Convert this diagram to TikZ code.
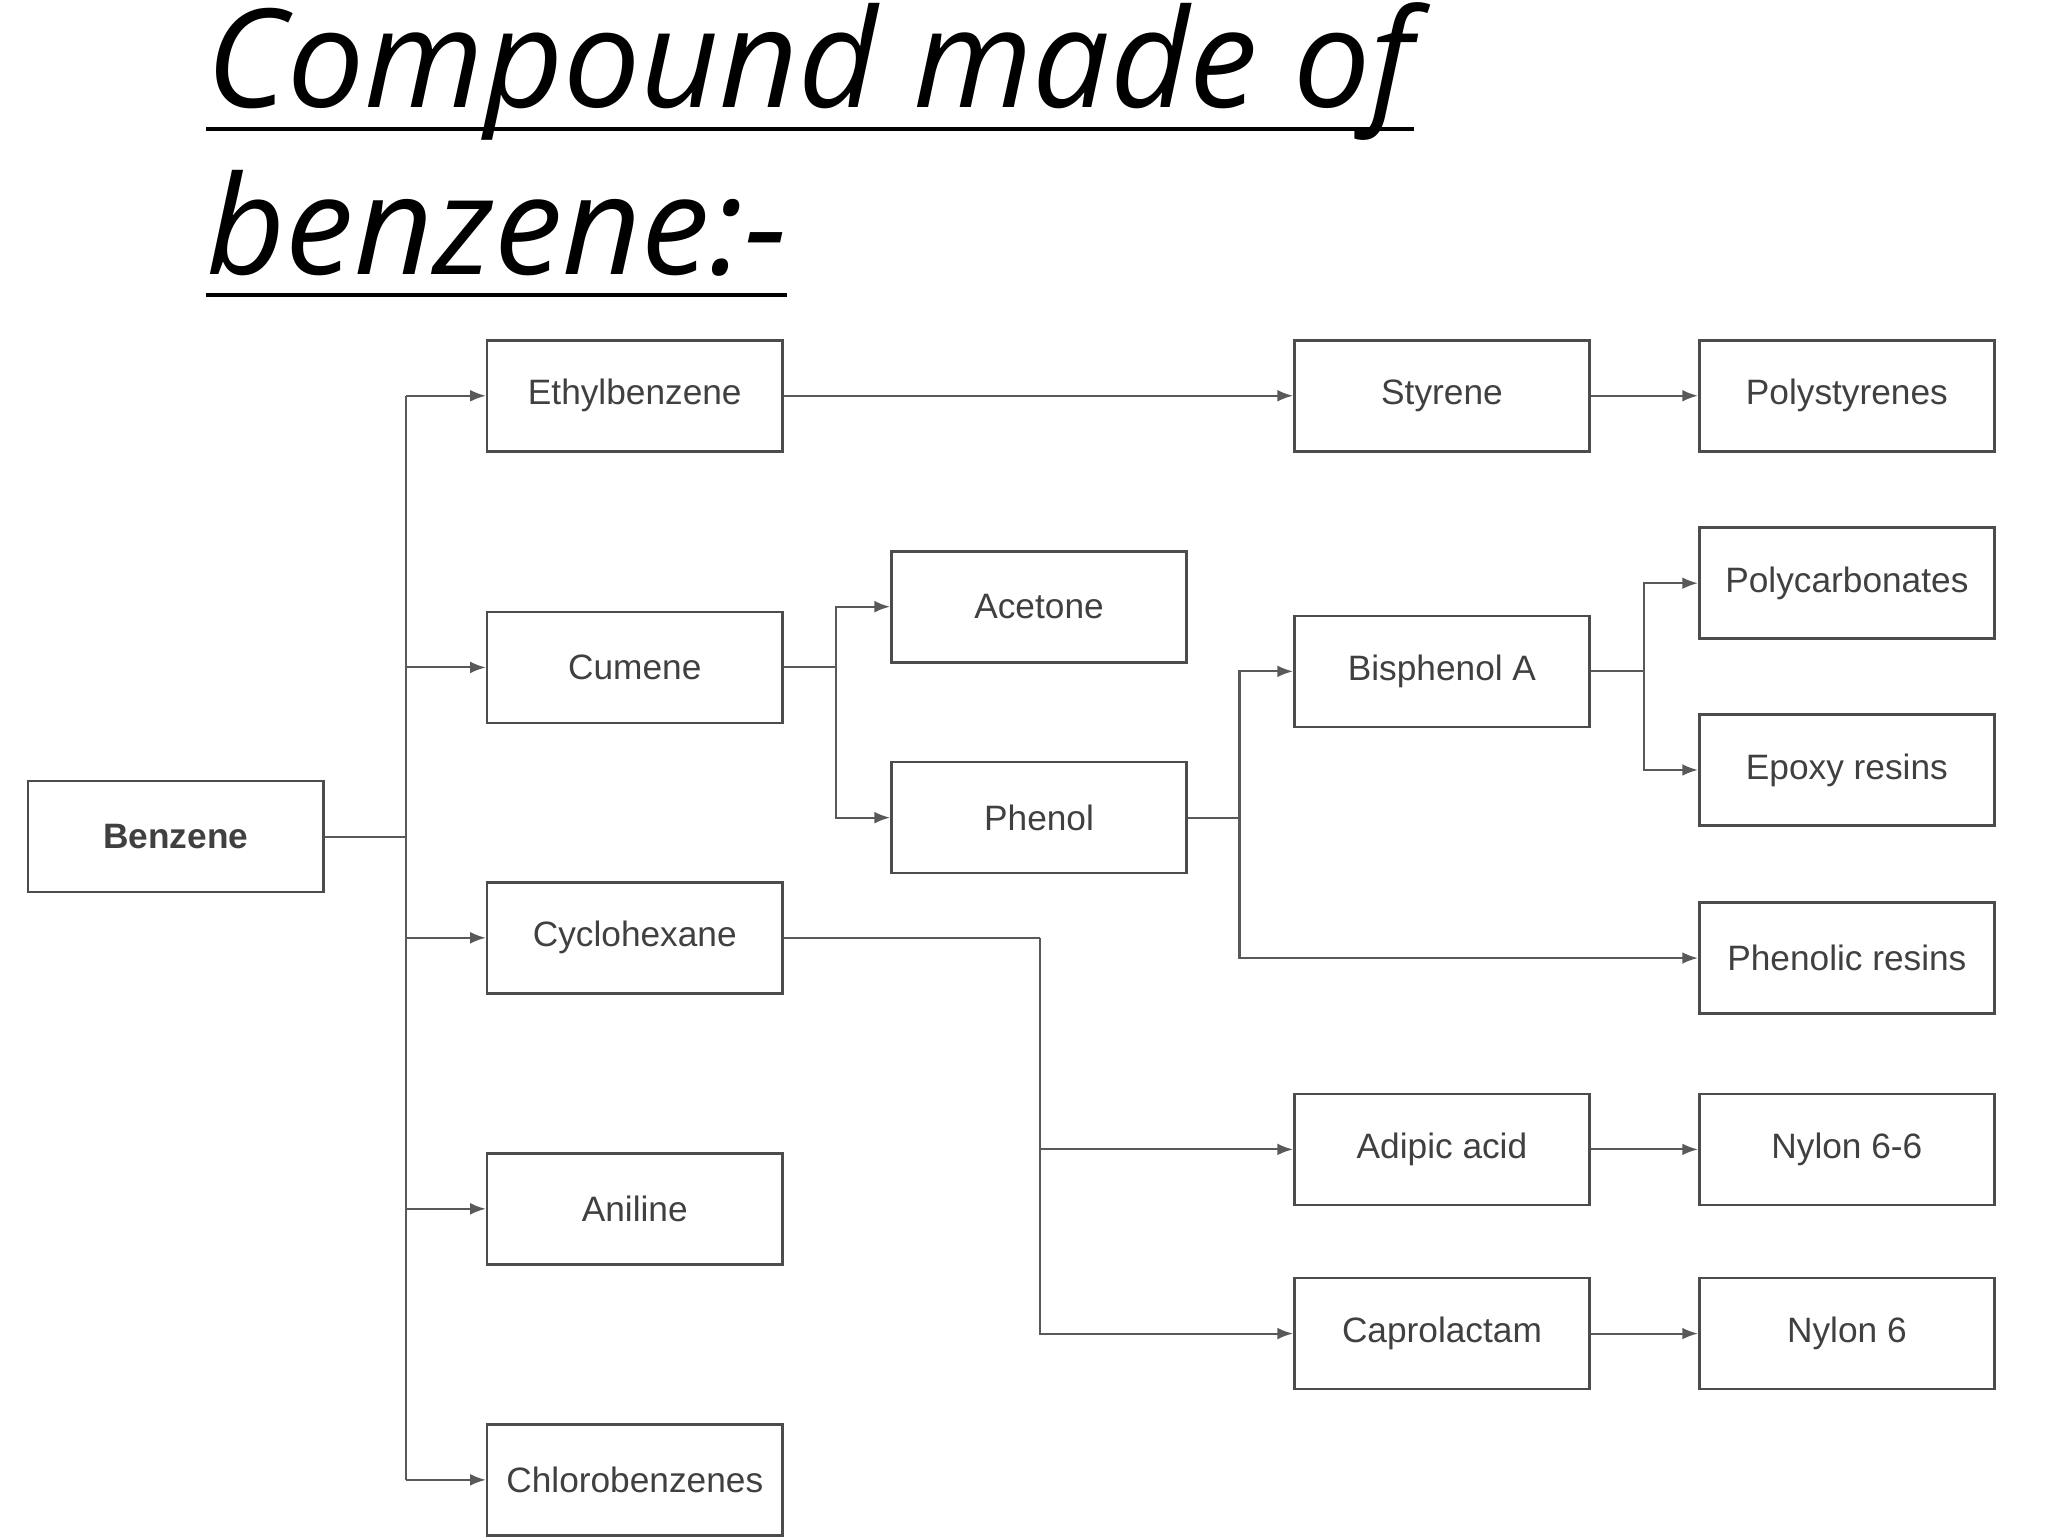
\documentclass[tikz,border=0pt]{standalone}
\usepackage{fontspec}
\setmainfont{Liberation Sans}
\newfontfamily\titlefont{Open Sans}
\usetikzlibrary{arrows.meta}
\begin{document}
\begin{tikzpicture}[x=1pt,y=-1pt,
  bx/.style={draw=black!70,line width=2pt,minimum width=226pt,minimum height=85pt,inner sep=0pt,text=black!75,font=\fontsize{27}{30}\selectfont},
  ln/.style={draw=black!65,line width=1.6pt},
  ar/.style={ln,-{Latex[length=12pt,width=9pt]}},
  tt/.style={anchor=base west,inner sep=0pt,font=\titlefont\itshape\fontsize{105}{120}\selectfont}]
\useasboundingbox (0,0) rectangle (1568,1176);
\clip (0,0) rectangle (1568,1176);
\node[tt] (t1) at (158,82) {Compound made of};
\node[tt] (t2) at (158,210) {benzene:-};
\draw[line width=3pt] (t1.base west) ++(0,17) coordinate (u1) -- (u1 -| t1.east);
\draw[line width=3pt] (t2.base west) ++(0,16) coordinate (u2) -- (u2 -| t2.east);
\def\cA{134.5}\def\cB{486}\def\cC{795.5}\def\cD{1104}\def\cE{1414}
\node[bx,font=\bfseries\fontsize{27}{30}\selectfont] (ben) at (\cA,640.5) {Benzene};
\node[bx] (eth) at (\cB,303) {Ethylbenzene};
\node[bx] (cum) at (\cB,511) {Cumene};
\node[bx] (cyc) at (\cB,718) {Cyclohexane};
\node[bx] (ani) at (\cB,925.5) {Aniline};
\node[bx] (chl) at (\cB,1133) {Chlorobenzenes};
\node[bx] (ace) at (\cC,464.5) {Acetone};
\node[bx] (phe) at (\cC,626) {Phenol};
\node[bx] (sty) at (\cD,303) {Styrene};
\node[bx] (bis) at (\cD,514) {Bisphenol A};
\node[bx] (adi) at (\cD,880) {Adipic acid};
\node[bx] (cap) at (\cD,1021) {Caprolactam};
\node[bx] (pst) at (\cE,303) {Polystyrenes};
\node[bx] (pca) at (\cE,446.5) {Polycarbonates};
\node[bx] (epo) at (\cE,589.5) {Epoxy resins};
\node[bx] (pre) at (\cE,733.5) {Phenolic resins};
\node[bx] (n66) at (\cE,880) {Nylon 6-6};
\node[bx] (n6) at (\cE,1021) {Nylon 6};
\coordinate (b1) at (311,640.5);
\draw[ln] (ben.east) -- (b1);
\draw[ln] (311,303) -- (311,1133);
\foreach \t in {eth,cum,cyc,ani,chl} \draw[ar] (b1 |- \t.west) -- (\t.west);
\coordinate (b2) at (640,511);
\draw[ln] (cum.east) -- (b2);
\draw[ar] (b2) |- (ace.west);
\draw[ar] (b2) |- (phe.west);
\coordinate (b3) at (949,626);
\draw[ln] (phe.east) -- (b3);
\draw[ar] (b3) |- (bis.west);
\draw[ar] (b3) |- (pre.west);
\coordinate (b4) at (1259,514);
\draw[ln] (bis.east) -- (b4);
\draw[ar] (b4) |- (pca.west);
\draw[ar] (b4) |- (epo.west);
\coordinate (b5) at (796,718);
\draw[ln] (cyc.east) -- (b5);
\draw[ar] (b5) |- (adi.west);
\draw[ar] (b5) |- (cap.west);
\draw[ar] (eth) -- (sty);
\draw[ar] (sty) -- (pst);
\draw[ar] (adi) -- (n66);
\draw[ar] (cap) -- (n6);
\end{tikzpicture}
\end{document}
